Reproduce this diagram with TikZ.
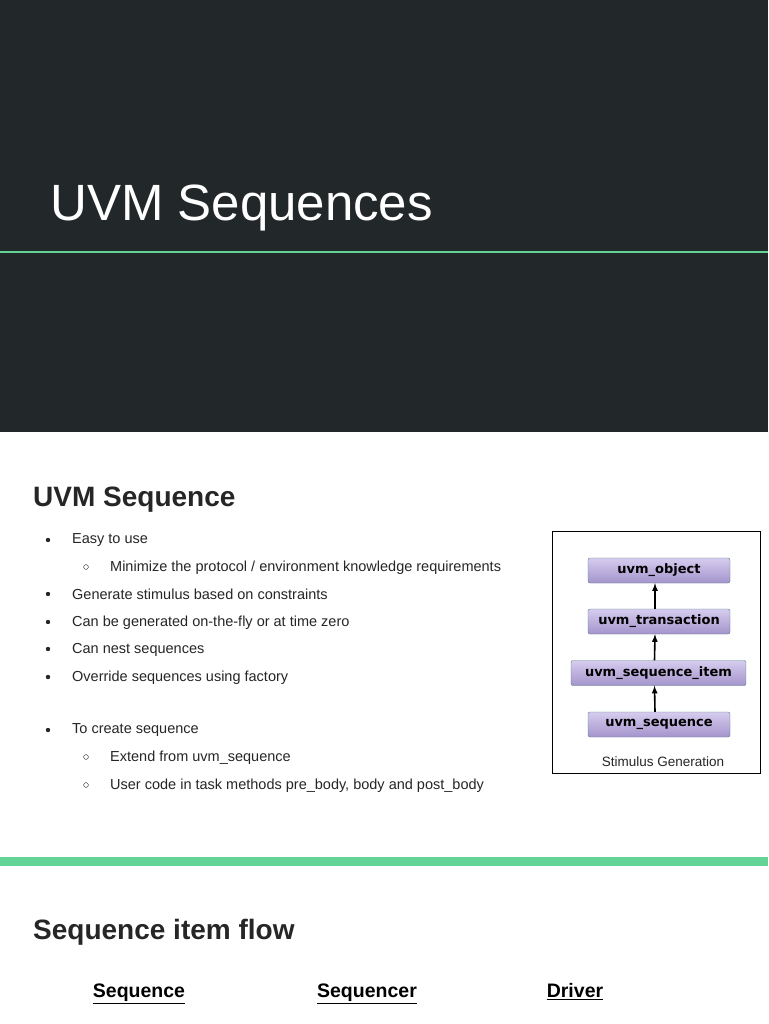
\documentclass[tikz,border=0pt]{standalone}
\usepackage{fontspec}
\setmainfont{Liberation Sans}
\newfontfamily\cls{DejaVu Sans}
\definecolor{band}{RGB}{34,40,41}
\definecolor{accent}{RGB}{100,211,150}
\definecolor{lavtop}{RGB}{214,204,238}
\definecolor{lavbot}{RGB}{164,148,204}
\begin{document}
\begin{tikzpicture}[x=1pt,y=-1pt,
  txt/.style={anchor=west,font=\fontsize{14.5}{16}\selectfont,text=black!85,inner sep=0},
  cls/.style={draw=teal!40!gray,rounded corners=2pt,top color=lavtop,bottom color=lavbot,
    minimum height=25pt,inner sep=0,font=\cls\bfseries\fontsize{13}{14}\selectfont},
  up/.style={-latex,line width=1.6pt}]
\useasboundingbox (0,0) rectangle (768,1024);
\fill[white] (0,0) rectangle (768,1024);
\fill[band] (0,0) rectangle (768,432);
\draw[accent,line width=1.5pt] (0,252) -- (768,252);
\node[anchor=base west,inner sep=0,text=white,font=\fontsize{51}{53}\selectfont] (title) at (50,221) {UVM Sequences};
\node[anchor=base west,inner sep=0,text=black!85,font=\bfseries\fontsize{28}{30}\selectfont] (h1) at (33,506) {UVM Sequence};
% bullets
\foreach \y/\t in {539/Easy to use, 593/Generate stimulus based on constraints,
  621/Can be generated on-the-fly or at time zero, 648/Can nest sequences,
  676/Override sequences using factory, 729/To create sequence}{
  \fill[black!85] (48,\y+1) circle (2.2);
  \node[txt] at (72,\y+1.5) {\t};}
\foreach \y/\t in {566/{Minimize the protocol / environment knowledge requirements},
  756/{Extend from uvm\_sequence}, 784/{User code in task methods pre\_body, body and post\_body}}{
  \draw[black!85] (86,\y+1) circle (2.4);
  \node[txt] at (110,\y+1.5) {\t};}
% class diagram
\draw[black] (552,531) rectangle (760,773);
\node[cls,minimum width=142pt] (obj) at (659,570.5) {uvm\_object};
\node[cls,minimum width=142pt] (tr) at (659,621.5) {uvm\_transaction};
\node[cls,minimum width=175pt] (item) at (658.5,673) {uvm\_sequence\_item};
\node[cls,minimum width=142pt] (seq) at (659,724.5) {uvm\_sequence};
\draw[up] ([xshift=-4pt]seq.north) -- ([xshift=-4pt]item.south);
\draw[up] ([xshift=-4pt]item.north) -- ([xshift=-4pt]tr.south);
\draw[up] ([xshift=-4pt]tr.north) -- ([xshift=-4pt]obj.south);
\node[font=\fontsize{13.5}{14}\selectfont,text=black!85] (cap) at (663,762) {Stimulus Generation};
% lower section
\fill[accent] (0,857) rectangle (768,866);
\node[anchor=base west,inner sep=0,text=black!85,font=\bfseries\fontsize{28}{30}\selectfont] (h2) at (33,939) {Sequence item flow};
\foreach \x/\t/\n in {139/Sequence/c1, 367/Sequencer/c2, 575/Driver/c3}{
  \node[anchor=base,inner sep=0,font=\bfseries\fontsize{19.5}{20}\selectfont] (\n) at (\x,997) {\t};
  \draw[line width=1.2pt] ([yshift=-2pt]\n.south west) -- ([yshift=-2pt]\n.south east);}
\end{tikzpicture}
\end{document}
